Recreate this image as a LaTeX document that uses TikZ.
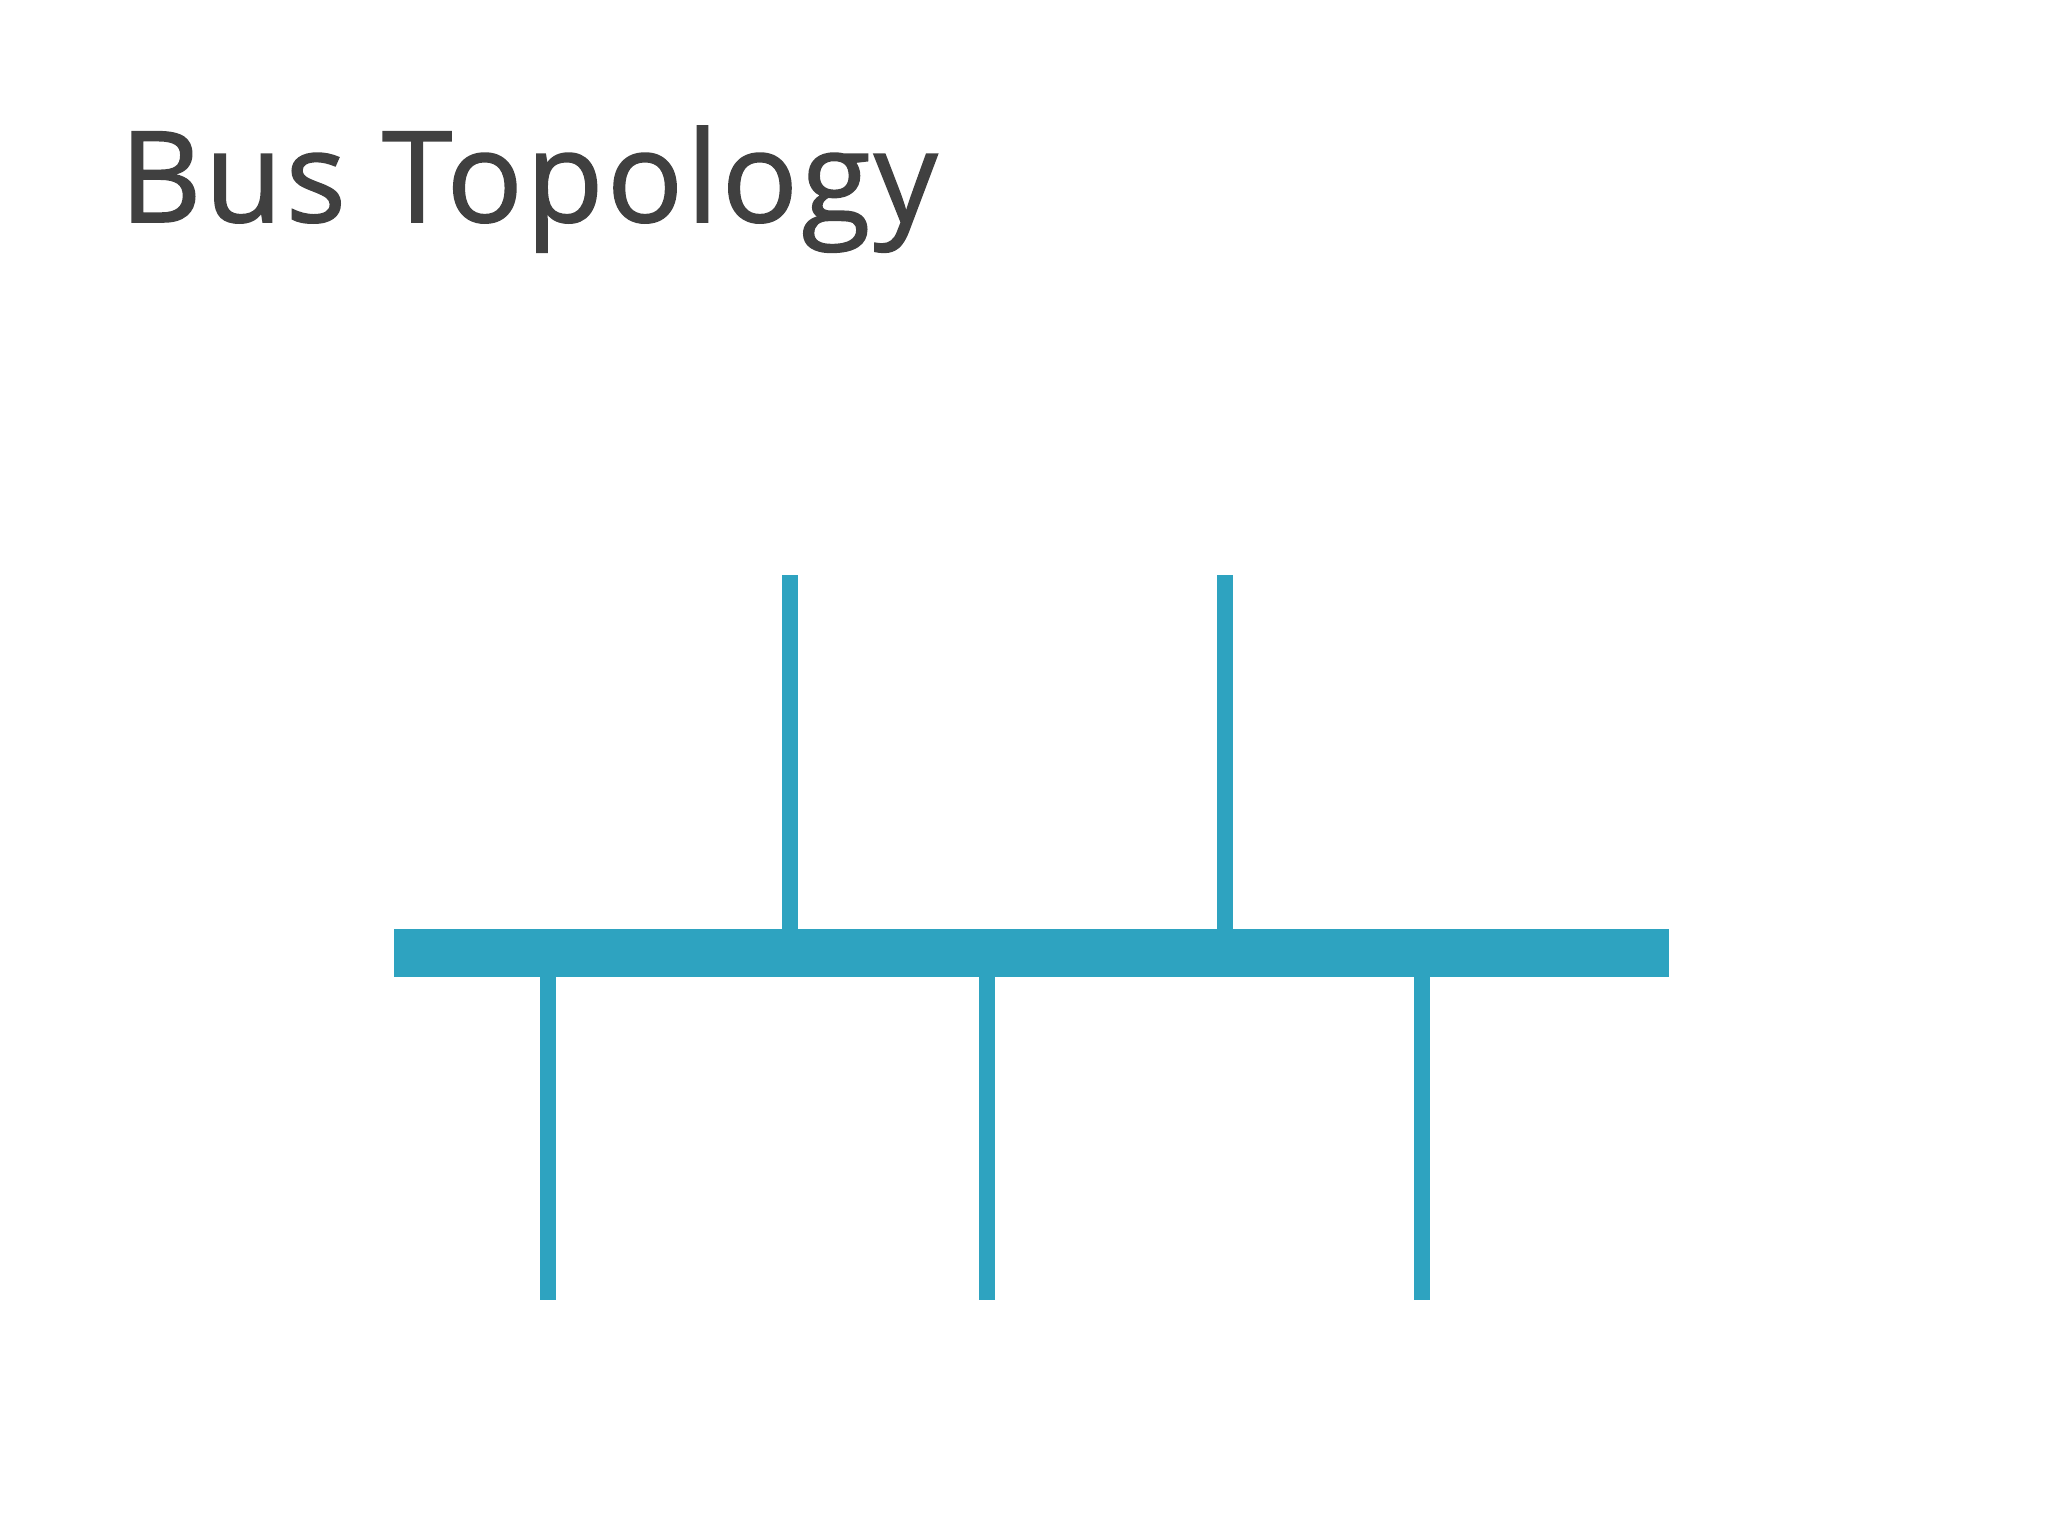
\documentclass[tikz,border=0pt]{standalone}
\usepackage{fontspec}
\setmainfont{Open Sans}
\newfontfamily\titlefont[FakeBold=1.2, LetterSpace=2.5]{Open Sans}
\usepackage{tikz}
\usetikzlibrary{positioning}
\definecolor{busblue}{RGB}{46, 163, 192}
\definecolor{titlegray}{RGB}{64, 64, 64}

\begin{document}
\begin{tikzpicture}[
      x=0.01cm, y=-0.01cm,
      title/.style={anchor=base west, inner sep=0pt, text=titlegray,
                    font=\titlefont\fontsize{36}{40}\selectfont},
      bus/.style={draw=busblue, line width=0.48cm},
      stub/.style={draw=busblue, line width=0.16cm}
    ]
      \useasboundingbox (0,0) rectangle (2048,1536);

      \node [title] (title) at (119,222) {Bus Topology};

      % the bus itself
      \coordinate (busL) at (394,953);
      \coordinate (busR) at (1669,953);
      \path [bus] (busL) -- (busR);

      % stations above and below
      \foreach \x [count=\i] in {790,1225} {
        \coordinate (up\i) at (\x,575);
        \coordinate (upfoot\i) at (\x,929);
        \path [stub] (up\i) -- (upfoot\i);
      }
      \foreach \x [count=\i] in {548,987,1422} {
        \coordinate (down\i) at (\x,1300);
        \coordinate (downfoot\i) at (\x,977);
        \path [stub] (downfoot\i) -- (down\i);
      }
    \end{tikzpicture}
\end{document}
